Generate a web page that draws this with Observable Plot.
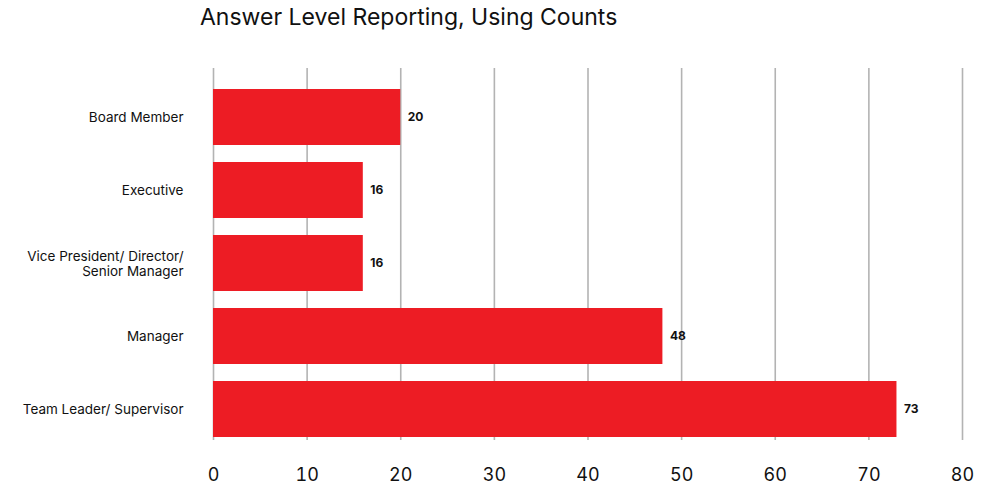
<!DOCTYPE html>
<html>
<head>
<meta charset="utf-8">
<script src="https://cdn.jsdelivr.net/npm/d3@7"></script>
<script src="https://cdn.jsdelivr.net/npm/@observablehq/plot@0.6"></script>
<style>
  body { margin: 0; background: #fff; font-family: Inter, "Noto Sans", sans-serif; }
  #title { height: 44px; padding-left: 200px; font-size: 23px; line-height: 34px; color: #111; box-sizing: border-box; }
</style>
</head>
<body>
<div id="title">Answer Level Reporting, Using Counts</div>
<div id="chart"></div>
<script>
const categories = [
  "Board Member",
  "Executive",
  "Vice President/ Director/\nSenior Manager",
  "Manager",
  "Team Leader/ Supervisor"
];
const counts = [20, 16, 16, 48, 73];
const xTicks = [0, 10, 20, 30, 40, 50, 60, 70, 80];

const data = categories.map((c, i) => ({category: c, count: counts[i]}));

const chart = Plot.plot({
  width: 1000,
  height: 445,
  marginLeft: 213,
  marginRight: 38,
  marginTop: 24,
  marginBottom: 49,
  style: {fontFamily: "Inter, 'Noto Sans', sans-serif", color: "#111"},
  x: {domain: [0, 80], ticks: xTicks, label: null},
  y: {domain: categories, range: [45, 393], paddingInner: 0.233, paddingOuter: 0, label: null},
  marks: [
    Plot.ruleX(xTicks, {stroke: "#b3b3b3", strokeWidth: 1.6}),
    Plot.barX(data, {x: "count", y: "category", fill: "#ED1C24"}),
    Plot.text(data, {x: "count", y: "category", text: d => String(d.count), textAnchor: "start", dx: 7, fontSize: 12, fontWeight: "bold", fill: "#111"}),
    Plot.axisX({ticks: xTicks, tickSize: 0, tickPadding: 28, fontSize: 18, anchor: "bottom", label: null}),
    Plot.axisY({tickSize: 0, tickPadding: 30, fontSize: 13.5, anchor: "left", label: null, lineHeight: 1.15})
  ]
});
document.getElementById("chart").appendChild(chart);
</script>
</body>
</html>
